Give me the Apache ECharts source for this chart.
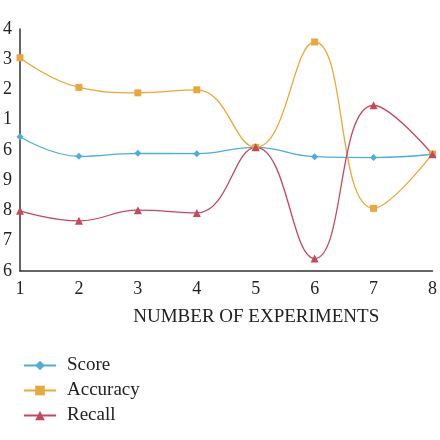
<!DOCTYPE html>
<html>
<head>
<meta charset="utf-8">
<script src="https://cdn.jsdelivr.net/npm/echarts@6/dist/echarts.min.js"></script>
<style>html,body{margin:0;padding:0;background:#fff}#c{width:440px;height:440px}</style>
</head>
<body>
<div id="c"></div>
<script>
var categories = ['1','2','3','4','5','6','7','8'];
var yTickLabels = ['6','7','8','9','6','1','2','3','4'];
var scoreValues = [4.44, 3.79, 3.89, 3.88, 4.09, 3.78, 3.75, 3.86];
var accuracyValues = [7.05, 6.07, 5.89, 5.99, 4.09, 7.57, 2.07, 3.87];
var recallValues = [1.99, 1.66, 2.01, 1.92, 4.09, 0.41, 5.48, 3.86];

var font = 'Liberation Serif';
var chart = echarts.init(document.getElementById('c'));
function mk(name, data, color, symbol, size) {
  return {
    name: name, type: 'line', data: data, smooth: 0.45,
    symbol: symbol, symbolSize: size,
    lineStyle: {color: color, width: 1.3},
    itemStyle: {color: color}
  };
}
chart.setOption({
  animation: false,
  textStyle: {fontFamily: font},
  grid: {left: 20, right: 5, top: 29, bottom: 169, containLabel: false},
  legend: {
    orient: 'vertical', left: 18, top: 351, itemWidth: 32, itemHeight: 12, itemGap: 6,
    textStyle: {fontFamily: font, fontSize: 19, color: '#222', padding: [0,0,0,6]},
    data: ['Score','Accuracy','Recall']
  },
  xAxis: {
    type: 'category', data: categories, boundaryGap: false,
    axisLine: {lineStyle: {color: '#333', width: 1.5}},
    axisTick: {show: false},
    axisLabel: {fontFamily: font, fontSize: 18, color: '#222', margin: 9},
    name: 'NUMBER OF EXPERIMENTS', nameLocation: 'middle', nameGap: 37,
    nameTextStyle: {fontFamily: font, fontSize: 19, color: '#222', padding: [0,0,0,60]}
  },
  yAxis: {
    type: 'value', min: 0, max: 8, interval: 1,
    axisLine: {show: true, lineStyle: {color: '#333', width: 1.5}},
    axisTick: {show: false},
    splitLine: {show: false},
    axisLabel: {fontFamily: font, fontSize: 18, color: '#222', margin: 8,
      formatter: function (v) { return yTickLabels[Math.round(v)]; }}
  },
  series: [
    mk('Score', scoreValues, '#4BAFD6', 'diamond', 7),
    mk('Accuracy', accuracyValues, '#E8A83A', 'rect', 7),
    mk('Recall', recallValues, '#C4485E', 'triangle', 8)
  ]
});
</script>
</body>
</html>
